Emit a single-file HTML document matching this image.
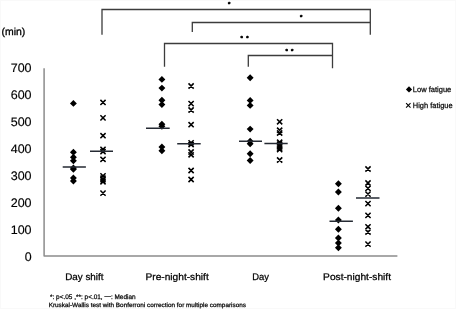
<!DOCTYPE html>
<html><head><meta charset="utf-8"><style>
html,body{margin:0;padding:0;background:#fff;}
body{width:456px;height:309px;overflow:hidden;}
svg{display:block;}
text{font-family:"Liberation Sans",Arial,sans-serif;fill:#000;text-rendering:geometricPrecision;}
</style></head><body>
<svg width="456" height="309" viewBox="0 0 456 309">
<rect x="0.5" y="0.5" width="455" height="308" fill="#fff" stroke="#f9f9f9" stroke-width="1"/>
<text x="1.5" y="34.7" font-size="10.2" stroke="#000" stroke-width="0.3" textLength="23.8" lengthAdjust="spacingAndGlyphs">(min)</text>
<g font-size="12.4" stroke="#000" stroke-width="0.15"><text x="31.6" y="260.90" text-anchor="end">0</text><text x="31.6" y="233.93" text-anchor="end" textLength="20.9" lengthAdjust="spacingAndGlyphs">100</text><text x="31.6" y="206.96" text-anchor="end" textLength="20.9" lengthAdjust="spacingAndGlyphs">200</text><text x="31.6" y="179.99" text-anchor="end" textLength="20.9" lengthAdjust="spacingAndGlyphs">300</text><text x="31.6" y="153.02" text-anchor="end" textLength="20.9" lengthAdjust="spacingAndGlyphs">400</text><text x="31.6" y="126.05" text-anchor="end" textLength="20.9" lengthAdjust="spacingAndGlyphs">500</text><text x="31.6" y="99.08" text-anchor="end" textLength="20.9" lengthAdjust="spacingAndGlyphs">600</text><text x="31.6" y="72.11" text-anchor="end" textLength="20.9" lengthAdjust="spacingAndGlyphs">700</text></g>
<path d="M44.1 68.2V256.0H397.4" fill="none" stroke="#8c8c8c" stroke-width="1.5" stroke-linejoin="round"/>
<g fill="none" stroke="#3c3c3c" stroke-width="1.3">
<path d="M102 34.7V9.5H370.3V34.7"/>
<path d="M192.3 32V22.5H370.3"/>
<path d="M164.5 66.8V43.5H332.5V68.3"/>
<path d="M248.3 66.8V55.5H332.5"/>
</g>
<g font-size="6" font-weight="bold" fill="#000" stroke="#000" stroke-width="0.5">
<text x="227.9" y="6.0">*</text>
<text x="299.9" y="19.1">*</text>
<text x="240.5" y="39.5" letter-spacing="3.37">**</text>
<text x="285.5" y="52.5" letter-spacing="3.17">**</text>
</g>
<path d="M73.40 99.95L76.85 103.40L73.40 106.85L69.95 103.40ZM73.40 148.85L76.85 152.30L73.40 155.75L69.95 152.30ZM73.40 153.75L76.85 157.20L73.40 160.65L69.95 157.20ZM73.40 157.25L76.85 160.70L73.40 164.15L69.95 160.70ZM73.40 164.55L76.85 168.00L73.40 171.45L69.95 168.00ZM73.40 165.85L76.85 169.30L73.40 172.75L69.95 169.30ZM73.40 174.45L76.85 177.90L73.40 181.35L69.95 177.90ZM73.40 177.55L76.85 181.00L73.40 184.45L69.95 181.00ZM161.90 75.95L165.35 79.40L161.90 82.85L158.45 79.40ZM161.90 84.65L165.35 88.10L161.90 91.55L158.45 88.10ZM161.90 96.75L165.35 100.20L161.90 103.65L158.45 100.20ZM161.90 101.15L165.35 104.60L161.90 108.05L158.45 104.60ZM161.90 120.85L165.35 124.30L161.90 127.75L158.45 124.30ZM161.90 122.75L165.35 126.20L161.90 129.65L158.45 126.20ZM161.90 143.55L165.35 147.00L161.90 150.45L158.45 147.00ZM161.90 147.35L165.35 150.80L161.90 154.25L158.45 150.80ZM250.15 74.25L253.60 77.70L250.15 81.15L246.70 77.70ZM250.15 96.95L253.60 100.40L250.15 103.85L246.70 100.40ZM250.15 101.95L253.60 105.40L250.15 108.85L246.70 105.40ZM250.15 125.65L253.60 129.10L250.15 132.55L246.70 129.10ZM250.15 137.85L253.60 141.30L250.15 144.75L246.70 141.30ZM250.15 140.35L253.60 143.80L250.15 147.25L246.70 143.80ZM250.15 150.25L253.60 153.70L250.15 157.15L246.70 153.70ZM250.15 157.05L253.60 160.50L250.15 163.95L246.70 160.50ZM338.40 180.25L341.85 183.70L338.40 187.15L334.95 183.70ZM338.40 188.55L341.85 192.00L338.40 195.45L334.95 192.00ZM338.40 204.75L341.85 208.20L338.40 211.65L334.95 208.20ZM338.40 216.55L341.85 220.00L338.40 223.45L334.95 220.00ZM338.40 225.75L341.85 229.20L338.40 232.65L334.95 229.20ZM338.40 234.55L341.85 238.00L338.40 241.45L334.95 238.00ZM338.40 239.55L341.85 243.00L338.40 246.45L334.95 243.00ZM338.40 244.25L341.85 247.70L338.40 251.15L334.95 247.70Z" fill="#000"/>
<path d="M100.40 99.85L105.60 105.05M100.40 105.05L105.60 99.85M100.40 115.25L105.60 120.45M100.40 120.45L105.60 115.25M100.40 133.10L105.60 138.30M100.40 138.30L105.60 133.10M100.40 146.70L105.60 151.90M100.40 151.90L105.60 146.70M100.40 149.10L105.60 154.30M100.40 154.30L105.60 149.10M100.40 156.70L105.60 161.90M100.40 161.90L105.60 156.70M100.40 173.30L105.60 178.50M100.40 178.50L105.60 173.30M100.40 175.60L105.60 180.80M100.40 180.80L105.60 175.60M100.40 177.00L105.60 182.20M100.40 182.20L105.60 177.00M100.40 179.20L105.60 184.40M100.40 184.40L105.60 179.20M100.40 190.50L105.60 195.70M100.40 195.70L105.60 190.50M188.50 83.40L193.70 88.60M188.50 88.60L193.70 83.40M188.50 101.00L193.70 106.20M188.50 106.20L193.70 101.00M188.50 107.40L193.70 112.60M188.50 112.60L193.70 107.40M188.50 122.10L193.70 127.30M188.50 127.30L193.70 122.10M188.50 140.20L193.70 145.40M188.50 145.40L193.70 140.20M188.50 141.90L193.70 147.10M188.50 147.10L193.70 141.90M188.50 149.40L193.70 154.60M188.50 154.60L193.70 149.40M188.50 152.20L193.70 157.40M188.50 157.40L193.70 152.20M188.50 167.90L193.70 173.10M188.50 173.10L193.70 167.90M188.50 176.90L193.70 182.10M188.50 182.10L193.70 176.90M277.05 119.20L282.25 124.40M277.05 124.40L282.25 119.20M277.05 127.60L282.25 132.80M277.05 132.80L282.25 127.60M277.05 130.40L282.25 135.60M277.05 135.60L282.25 130.40M277.05 139.60L282.25 144.80M277.05 144.80L282.25 139.60M277.05 141.60L282.25 146.80M277.05 146.80L282.25 141.60M277.05 143.70L282.25 148.90M277.05 148.90L282.25 143.70M277.05 145.40L282.25 150.60M277.05 150.60L282.25 145.40M277.05 147.00L282.25 152.20M277.05 152.20L282.25 147.00M277.05 157.40L282.25 162.60M277.05 162.60L282.25 157.40M365.40 166.40L370.60 171.60M365.40 171.60L370.60 166.40M365.40 180.40L370.60 185.60M365.40 185.60L370.60 180.40M365.40 185.80L370.60 191.00M365.40 191.00L370.60 185.80M365.40 191.50L370.60 196.70M365.40 196.70L370.60 191.50M365.40 201.00L370.60 206.20M365.40 206.20L370.60 201.00M365.40 212.80L370.60 218.00M365.40 218.00L370.60 212.80M365.40 224.20L370.60 229.40M365.40 229.40L370.60 224.20M365.40 229.40L370.60 234.60M365.40 234.60L370.60 229.40M365.40 241.50L370.60 246.70M365.40 246.70L370.60 241.50" fill="none" stroke="#000" stroke-width="1.55"/>
<path d="M62.7 167.0H85.9M90.0 151.3H113.0M146.0 128.2H169.7M177.2 143.7H200.7M239.0 141.2H262.0M264.4 143.6H287.7M329.5 221.3H352.9M356.0 198.0H379.5" fill="none" stroke="#252a33" stroke-width="1.5"/>
<path d="M409.00 86.30L412.10 89.40L409.00 92.50L405.90 89.40Z" fill="#000"/>
<path d="M406.10 103.20L410.50 107.60M406.10 107.60L410.50 103.20" fill="none" stroke="#000" stroke-width="1.1"/>
<g font-size="7.7" fill="#111" stroke="#111" stroke-width="0.25">
<text x="412.8" y="91.9" textLength="38.5" lengthAdjust="spacingAndGlyphs">Low fatigue</text>
<text x="412.8" y="108.1" textLength="39.8" lengthAdjust="spacingAndGlyphs">High fatigue</text>
</g>
<g font-size="9.6" stroke="#000" stroke-width="0.25">
<text x="65.2" y="279.9" textLength="38.3" lengthAdjust="spacingAndGlyphs">Day shift</text>
<text x="145.5" y="279.9" textLength="63.2" lengthAdjust="spacingAndGlyphs">Pre-night-shift</text>
<text x="252.2" y="279.9" textLength="16.7" lengthAdjust="spacingAndGlyphs">Day</text>
<text x="323.1" y="279.9" textLength="67.9" lengthAdjust="spacingAndGlyphs">Post-night-shift</text>
</g>
<g font-size="6.6" fill="#111" stroke="#111" stroke-width="0.25">
<text x="50" y="298.8" textLength="85.6" lengthAdjust="spacingAndGlyphs">*: p&lt;.05 ,**: p&lt;.01, <tspan dy="-1.2">—</tspan><tspan dy="1.2">: Median</tspan></text>
<text x="48.7" y="306.7" font-size="6.1" textLength="197.3" lengthAdjust="spacingAndGlyphs">Kruskal-Wallis test with Bonferroni correction for multiple comparisons</text>
</g>
</svg>
</body></html>
